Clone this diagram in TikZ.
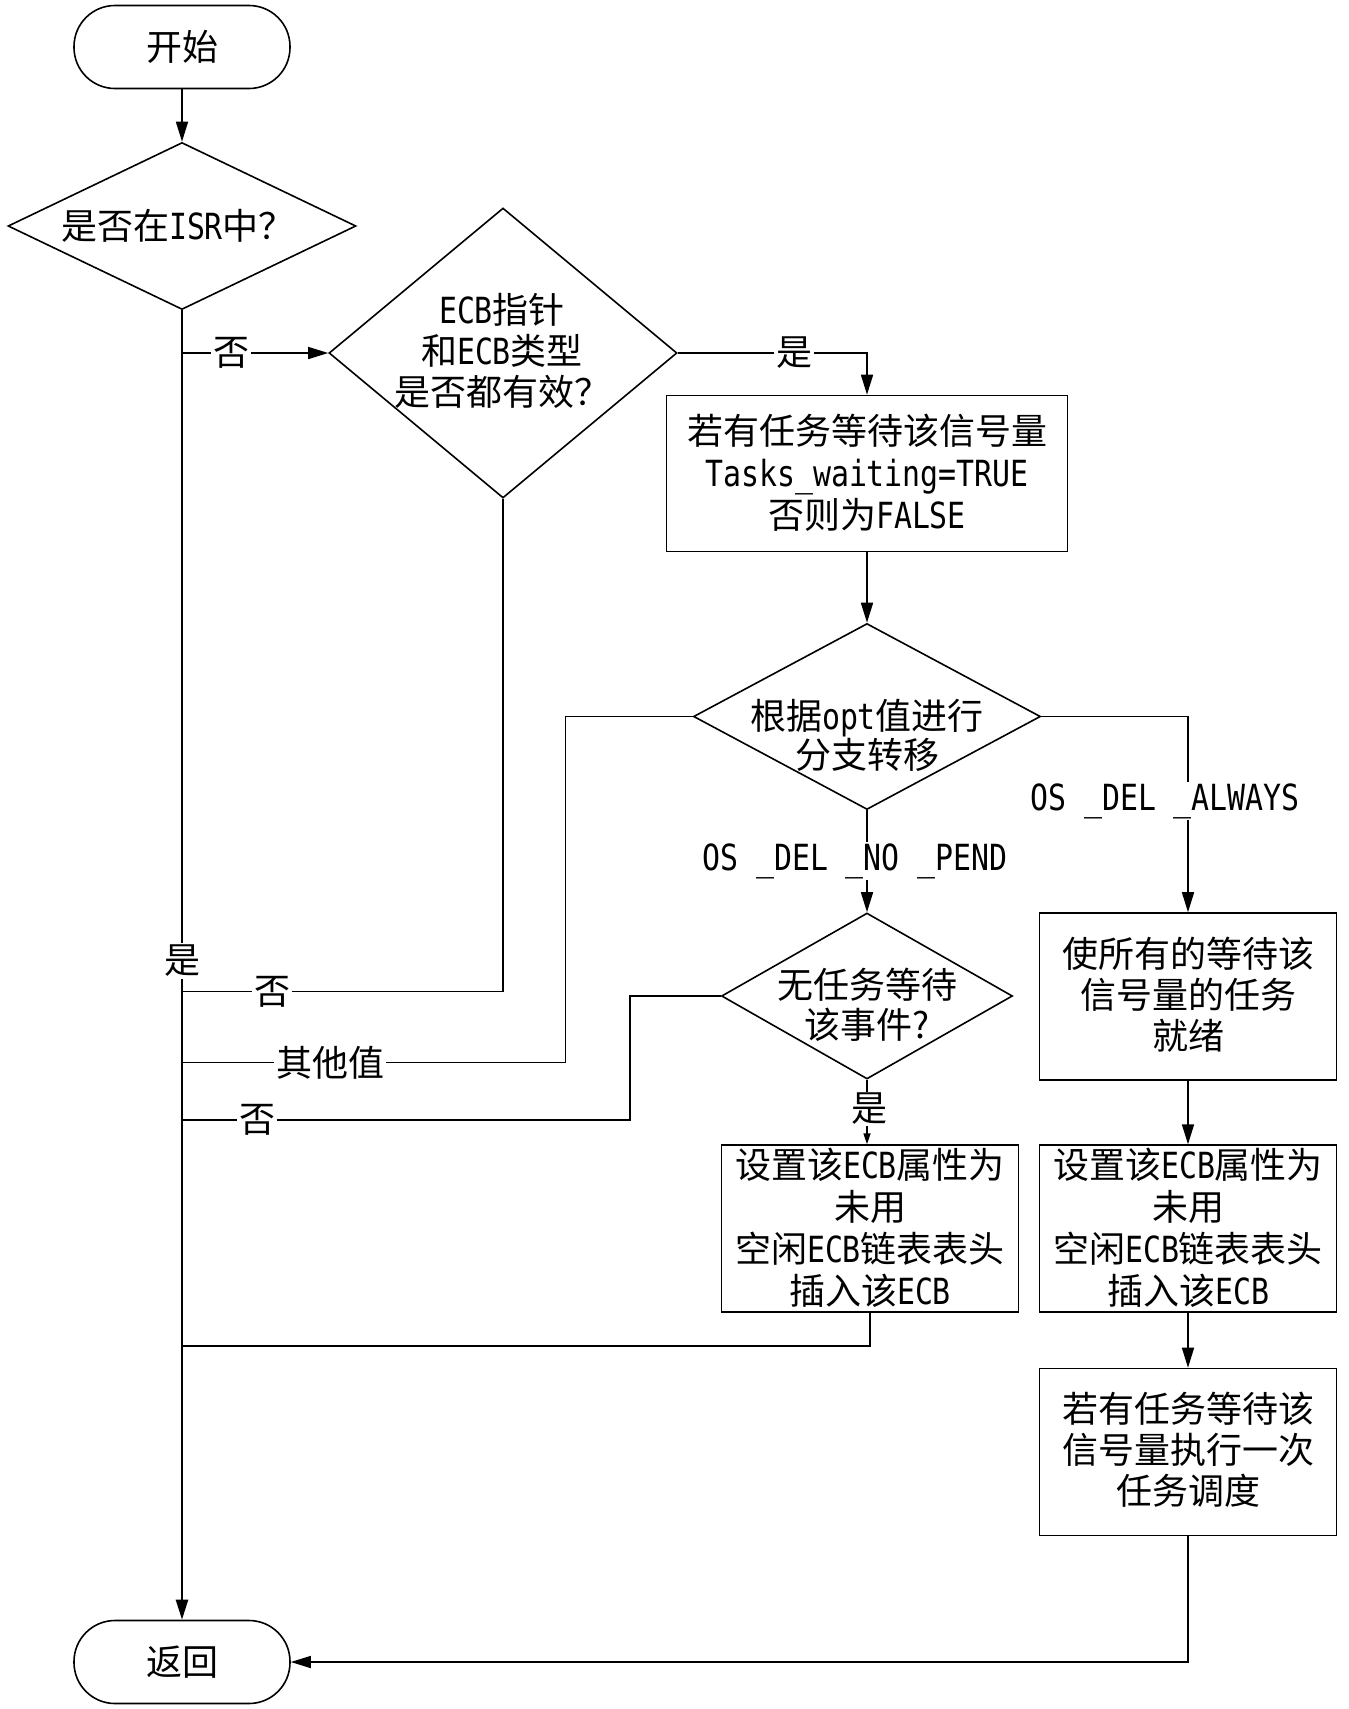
\documentclass[tikz,border=0pt]{standalone}
\usepackage{fontspec}
\newfontfamily\cjk{Noto Sans CJK SC}
\newfontfamily\lat[FakeStretch=0.83]{DejaVu Sans Mono}
\usetikzlibrary{shapes.geometric,arrows.meta}
\begin{document}
\begin{tikzpicture}[x=1pt,y=-1pt,
  every node/.style={font=\cjk\fontsize{36}{41}\selectfont},
  line width=1.6pt,
  term/.style={draw, rectangle, rounded corners=41pt, minimum width=216pt, minimum height=83pt, inner sep=0pt},
  dec/.style={draw, diamond, inner sep=0pt},
  box/.style={draw, rectangle, inner sep=0pt, minimum width=297pt, minimum height=167pt},
  txt/.style={align=center, inner sep=0pt},
  lbl/.style={fill=white, inner sep=2pt},
  arr/.style={-{Triangle[length=20pt,width=12pt]}},
  arrs/.style={-{Triangle[length=11pt,width=7pt]}},
]
\useasboundingbox (0,0) rectangle (1349,1709);

% shapes
\node[term] (start) at (182,47) {开始};
\node[dec, minimum width=348pt, minimum height=167pt] (d1) at (182,226) {};
\node[txt] (t1) at (178,226) {是否在{\lat ISR}中？};
\node[dec, minimum width=348pt, minimum height=290pt] (d2) at (503,353) {};
\node[txt] (t2) at (502,351) {{\lat ECB}指针\\和{\lat ECB}类型\\是否都有效？};
\node[box, minimum width=401pt, minimum height=156pt] (b1) at (867,473.5) {};
\node[txt, font=\cjk\fontsize{36}{42}\selectfont] (tb1) at (867,473) {若有任务等待该信号量\\{\lat Tasks\_waiting=TRUE}\\否则为{\lat FALSE}};
\node[dec, minimum width=347pt, minimum height=186pt] (d3) at (867,716.5) {};
\node[txt, font=\cjk\fontsize{36}{39}\selectfont] (t3) at (867,735) {根据{\lat opt}值进行\\分支转移};
\node[dec, minimum width=291pt, minimum height=166pt] (d4) at (867,996) {};
\node[txt, font=\cjk\fontsize{36}{40}\selectfont] (t4) at (867,1005) {无任务等待\\该事件?};
\node[box] (b2) at (870,1228.6) {};
\node[txt, font=\cjk\fontsize{36}{42}\selectfont] (tb2) at (870,1228) {设置该{\lat ECB}属性为\\未用\\空闲{\lat ECB}链表表头\\插入该{\lat ECB}};
\node[box] (b3) at (1188,996.5) {};
\node[txt] (tb3) at (1188,995) {使所有的等待该\\信号量的任务\\就绪};
\node[box] (b4) at (1188,1228.6) {};
\node[txt, font=\cjk\fontsize{36}{42}\selectfont] (tb4) at (1188,1228) {设置该{\lat ECB}属性为\\未用\\空闲{\lat ECB}链表表头\\插入该{\lat ECB}};
\node[box] (b5) at (1188,1452) {};
\node[txt] (tb5) at (1188,1450) {若有任务等待该\\信号量执行一次\\任务调度};
\node[term] (ret) at (182,1662) {返回};

% junction points
\coordinate (j1) at (182,353);
\coordinate (j2) at (182,991.6);
\coordinate (c3) at (565.6,1062.5);
\coordinate (j3) at (182,1062.5);
\coordinate (c4) at (629.9,1120.2);
\coordinate (j4) at (182,1120.2);
\coordinate (j5) at (182,1345.8);

% connectors
\draw[arr] (start) -- (d1);
\draw (d1.south) -- (j5);
\draw[arr, line width=2.4pt] (j5) -- (ret.north);
\draw[arr] (j1) -- (d2.west);
\draw[arr] (d2.east) -| (b1.north);
\draw (d2.south) |- (j2);
\draw[arr] (b1.south) -- (d3.north);
\draw (d3.west) -| (c3) -- (j3);
\draw[arr] (d3.south) -- (d4.north);
\draw[arr] (d3.east) -| (b3.north);
\draw (d4.west) -| (c4) -- (j4);
\draw[arrs] (d4.south) -- (d4.south |- b2.north);
\draw (b2.south) |- (j5);
\draw[arr] (b3) -- (b4);
\draw[arr] (b4) -- (b5);
\draw[arr] (b5.south) |- (ret.east);

% labels
\node[lbl] (l1) at (231,353) {否};
\node[lbl] (l2) at (794,353) {是};
\node[lbl] (l3) at (182,961) {是};
\node[lbl] (l4) at (272,991.6) {否};
\node[lbl] (l5) at (330,1062.5) {其他值};
\node[lbl] (l6) at (257,1120.2) {否};
\node[lbl, inner sep=1pt] (l7) at (855,861) {\lat OS \_DEL \_NO \_PEND};
\node[lbl, inner sep=1pt] (l8) at (1165,801) {\lat OS \_DEL \_ALWAYS};
\node[lbl, inner sep=1pt] (l9) at (869,1109) {是};
\end{tikzpicture}
\end{document}
